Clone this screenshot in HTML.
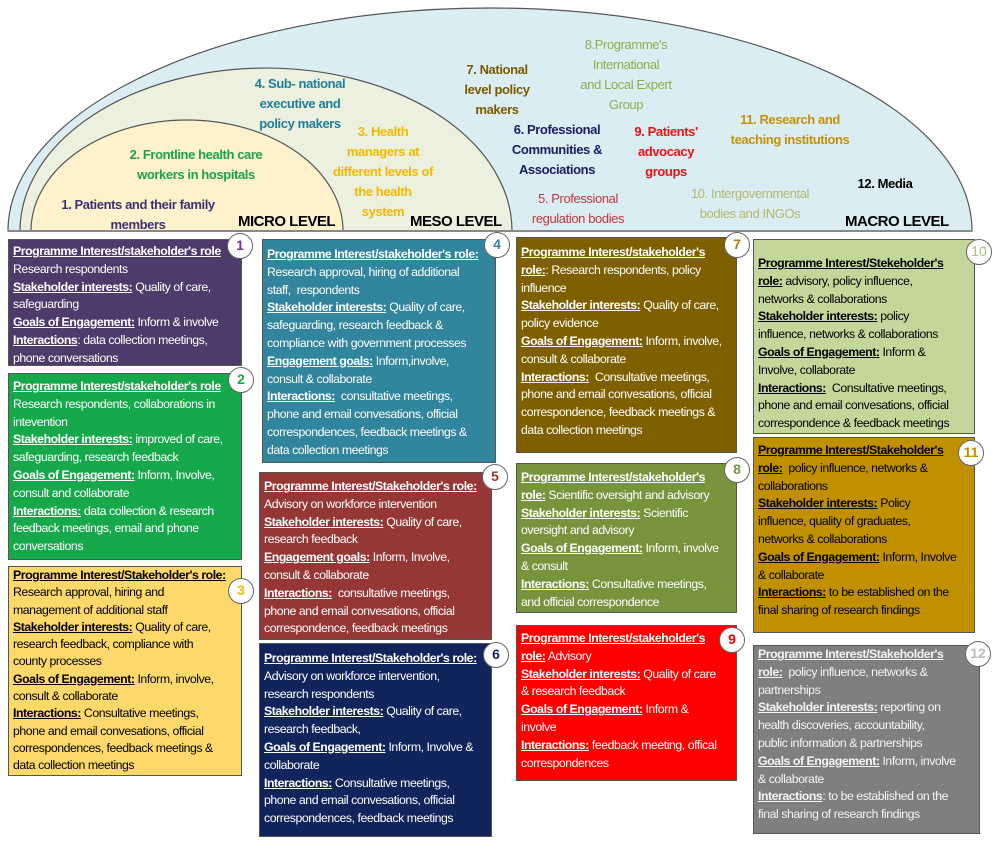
<!DOCTYPE html>
<html><head><meta charset="utf-8">
<style>
body{margin:0;width:1000px;height:846px;background:#fff;position:relative;overflow:hidden;font-family:"Liberation Sans",sans-serif}
.lab{position:absolute;font-weight:bold;font-size:13px;letter-spacing:-0.4px;line-height:20px;text-align:center;white-space:nowrap;transform:translateX(-50%)}
.lvl{position:absolute;font-weight:bold;font-size:15px;letter-spacing:-0.5px;color:#000;white-space:nowrap}
.box{position:absolute;box-sizing:border-box;border:1px solid #555;padding:3px 4px;font-size:12.3px;letter-spacing:-0.45px;line-height:17.8px;white-space:nowrap;color:#fff;overflow:hidden}
.box b{text-decoration:underline}
.c{position:absolute;width:26px;height:26px;border-radius:50%;background:#fff;border:1.5px solid #666;box-sizing:border-box;font-size:14px;line-height:23px;text-align:center;font-weight:bold}
</style></head><body>
<svg width="1000" height="846" style="position:absolute;left:0;top:0">
<path d="M8 231 A482 223 0 0 1 972 231 Z" fill="#daedf3" stroke="#555" stroke-width="1.2"/>
<path d="M20 231 A246 163 0 0 1 512 231 Z" fill="#ebf1de" stroke="#555" stroke-width="1.2"/>
<path d="M31 231 A156 111 0 0 1 343 231 Z" fill="#fdf2cc" stroke="#555" stroke-width="1.2"/>
<line x1="8" y1="231" x2="972" y2="231" stroke="#888" stroke-width="2"/>
</svg>
<div class="lab" style="left:138px;top:195px;color:#403073">1. Patients and their family<br>members</div>
<div class="lab" style="left:196px;top:145px;color:#1aa34a">2. Frontline health care<br>workers in hospitals</div>
<div class="lab" style="left:300px;top:74px;color:#1f7f9a">4. Sub- national<br>executive and<br>policy makers</div>
<div class="lab" style="left:383px;top:122px;color:#f5b800">3. Health<br>managers at<br>different levels of<br>the health<br>system</div>
<div class="lab" style="left:497px;top:60px;color:#7a5a00">7. National<br>level policy<br>makers</div>
<div class="lab" style="left:626px;top:35px;color:#8fae4a;font-weight:normal">8.Programme's<br>International<br>and Local Expert<br>Group</div>
<div class="lab" style="left:557px;top:120px;color:#1a2060">6. Professional<br>Communities &amp;<br>Associations</div>
<div class="lab" style="left:666px;top:122px;color:#ee1111">9. Patients'<br>advocacy<br>groups</div>
<div class="lab" style="left:578px;top:189px;color:#c0393b;font-weight:normal">5. Professional<br>regulation bodies</div>
<div class="lab" style="left:790px;top:110px;color:#c8900a">11. Research and<br>teaching institutions</div>
<div class="lab" style="left:750px;top:184px;color:#b3b86a;font-weight:normal">10. Intergovernmental<br>bodies and INGOs</div>
<div class="lab" style="left:885px;top:174px;color:#000">12. Media</div>
<div class="lvl" style="left:238px;top:213px">MICRO LEVEL</div>
<div class="lvl" style="left:410px;top:213px">MESO LEVEL</div>
<div class="lvl" style="left:845px;top:213px">MACRO LEVEL</div>

<div class="box" style="left:8px;top:239px;width:234px;height:127px;background:#4f3b6b"><b>Programme Interest/stakeholder's role</b><br>Research respondents<br><b>Stakeholder interests:</b> Quality of care,<br>safeguarding<br><b>Goals of Engagement:</b> Inform &amp; involve<br><b>Interactions</b>: data collection meetings,<br>phone conversations</div>
<div class="box" style="left:8px;top:373px;width:234px;height:187px;background:#17a84b;padding-top:4px"><b>Programme Interest/stakeholder's role</b><br>Research respondents, collaborations in<br>intevention<br><b>Stakeholder interests:</b> improved of care,<br>safeguarding, research feedback<br><b>Goals of Engagement:</b> Inform, Involve,<br>consult and collaborate<br><b>Interactions:</b> data collection &amp; research<br>feedback meetings, email and phone<br>conversations</div>
<div class="box" style="left:8px;top:566px;width:234px;height:210px;background:#fdd86a;color:#000;padding-top:0px;line-height:17.3px"><b>Programme Interest/Stakeholder's role:</b><br>Research approval, hiring and<br>management of additional staff<br><b>Stakeholder interests:</b> Quality of care,<br>research feedback, compliance with<br>county processes<br><b>Goals of Engagement:</b> Inform, involve,<br>consult &amp; collaborate<br><b>Interactions:</b> Consultative meetings,<br>phone and email convesations, official<br>correspondences, feedback meetings &amp;<br>data collection meetings</div>
<div class="box" style="left:262px;top:239px;width:234px;height:224px;background:#31859c;padding-top:6px"><b>Programme Interest/stakeholder's role:</b><br>Research approval, hiring of additional<br>staff,&nbsp; respondents<br><b>Stakeholder interests:</b> Quality of care,<br>safeguarding, research feedback &amp;<br>compliance with government processes<br><b>Engagement goals:</b> Inform,involve,<br>consult &amp; collaborate<br><b>Interactions:</b>&nbsp; consultative meetings,<br>phone and email convesations, official<br>correspondences, feedback meetings &amp;<br>data collection meetings</div>
<div class="box" style="left:259px;top:472px;width:233px;height:168px;background:#953735;padding-top:5px"><b>Programme Interest/Stakeholder's role:</b><br>Advisory on workforce intervention<br><b>Stakeholder interests:</b> Quality of care,<br>research feedback<br><b>Engagement goals:</b> Inform, Involve,<br>consult &amp; collaborate<br><b>Interactions:</b>&nbsp; consultative meetings,<br>phone and email convesations, official<br>correspondence, feedback meetings</div>
<div class="box" style="left:259px;top:643px;width:233px;height:194px;background:#12245c;padding-top:6px"><b>Programme Interest/Stakeholder's role:</b><br>Advisory on workforce intervention,<br>research respondents<br><b>Stakeholder interests:</b> Quality of care,<br>research feedback,<br><b>Goals of Engagement:</b> Inform, Involve &amp;<br>collaborate<br><b>Interactions:</b> Consultative meetings,<br>phone and email convesations, official<br>correspondences, feedback meetings</div>
<div class="box" style="left:516px;top:237px;width:221px;height:216px;background:#7f6000;padding-top:6px"><b>Programme Interest/stakeholder's</b><br><b>role:</b>: Research respondents, policy<br>influence<br><b>Stakeholder interests:</b> Quality of care,<br>policy evidence<br><b>Goals of Engagement:</b> Inform, involve,<br>consult &amp; collaborate<br><b>Interactions:</b>&nbsp; Consultative meetings,<br>phone and email convesations, official<br>correspondence, feedback meetings &amp;<br>data collection meetings</div>
<div class="box" style="left:516px;top:463px;width:221px;height:150px;background:#77933c;padding-top:5px"><b>Programme Interest/stakeholder's</b><br><b>role:</b> Scientific oversight and advisory<br><b>Stakeholder interests:</b> Scientific<br>oversight and advisory<br><b>Goals of Engagement:</b> Inform, involve<br>&amp; consult<br><b>Interactions:</b> Consultative meetings,<br>and official correspondence</div>
<div class="box" style="left:516px;top:625px;width:221px;height:156px;background:#ff0000;padding-top:4px"><b>Programme Interest/stakeholder's</b><br><b>role:</b> Advisory<br><b>Stakeholder interests:</b> Quality of care<br>&amp; research feedback<br><b>Goals of Engagement:</b> Inform &amp;<br>involve<br><b>Interactions:</b> feedback meeting, offical<br>correspondences</div>
<div class="box" style="left:753px;top:239px;width:222px;height:195px;background:#c4d79b;color:#000;padding-top:15px"><b>Programme Interest/Stekeholder's</b><br><b>role:</b> advisory, policy influence,<br>networks &amp; collaborations<br><b>Stakeholder interests:</b> policy<br>influence, networks &amp; collaborations<br><b>Goals of Engagement:</b> Inform &amp;<br>Involve, collaborate<br><b>Interactions:</b>&nbsp; Consultative meetings,<br>phone and email convesations, official<br>correspondence &amp; feedback meetings</div>
<div class="box" style="left:753px;top:437px;width:222px;height:196px;background:#c09000;color:#000;padding-top:4px"><b>Programme Interest/Stakeholder's</b><br><b>role:</b>&nbsp; policy influence, networks &amp;<br>collaborations<br><b>Stakeholder interests:</b> Policy<br>influence, quality of graduates,<br>networks &amp; collaborations<br><b>Goals of Engagement:</b> Inform, Involve<br>&amp; collaborate<br><b>Interactions:</b> to be established on the<br>final sharing of research findings</div>
<div class="box" style="left:753px;top:645px;width:227px;height:189px;background:#7f7f7f;color:#f4f4f4;padding-top:0px"><b>Programme Interest/Stakeholder's</b><br><b>role:</b>&nbsp; policy influence, networks &amp;<br>partnerships<br><b>Stakeholder interests:</b> reporting on<br>health discoveries, accountability,<br>public information &amp; partnerships<br><b>Goals of Engagement:</b> Inform, involve<br>&amp; collaborate<br><b>Interactions</b>: to be established on the<br>final sharing of research findings</div>

<div class="c" style="left:227px;top:233px;color:#7030a0">1</div>
<div class="c" style="left:228px;top:367px;color:#17a84b">2</div>
<div class="c" style="left:228px;top:578px;color:#f5b800">3</div>
<div class="c" style="left:484px;top:232px;color:#31859c">4</div>
<div class="c" style="left:482px;top:464px;color:#953735">5</div>
<div class="c" style="left:483px;top:642px;color:#12245c">6</div>
<div class="c" style="left:724px;top:232px;color:#b08000">7</div>
<div class="c" style="left:724px;top:457px;color:#77933c">8</div>
<div class="c" style="left:719px;top:627px;color:#ff0000">9</div>
<div class="c" style="left:966px;top:239px;color:#a8c07a;font-weight:normal">10</div>
<div class="c" style="left:958px;top:440px;color:#c09000">11</div>
<div class="c" style="left:965px;top:641px;color:#bbb">12</div>
</body></html>
